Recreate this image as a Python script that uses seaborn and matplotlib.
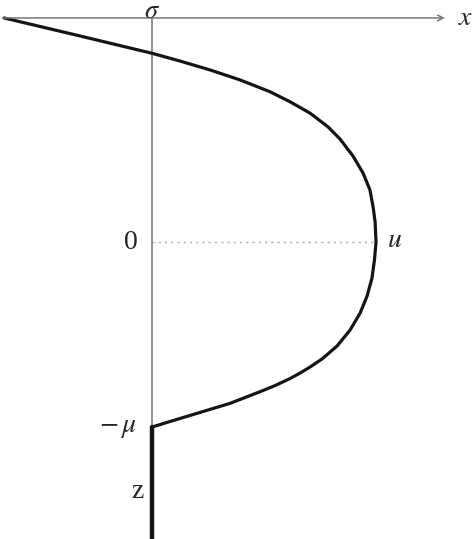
import numpy as np
import pandas as pd
import matplotlib
matplotlib.use("Agg")
import matplotlib.pyplot as plt
import seaborn as sns

# velocity profile (x in units of u, z in units of mu)
prof_x = [-0.661, -0.330, 0.0, 0.125, 0.259, 0.393, 0.527, 0.616, 0.705, 0.786,
          0.839, 0.897, 0.942, 0.973, 0.987, 0.996, 1.0,
          0.993, 0.982, 0.960, 0.929, 0.884, 0.826, 0.759, 0.705, 0.661,
          0.616, 0.549, 0.482, 0.348, 0.214, 0.080, 0.0]
prof_z = [1.211, 1.116, 1.020, 0.978, 0.930, 0.876, 0.812, 0.758, 0.697, 0.622,
          0.557, 0.465, 0.373, 0.281, 0.189, 0.108, 0.0,
          -0.097, -0.195, -0.292, -0.384, -0.476, -0.562, -0.632, -0.676, -0.708,
          -0.738, -0.776, -0.809, -0.872, -0.921, -0.970, -1.0]
# thick segment below -mu
wall_x = [0.0, 0.0]
wall_z = [-1.0, -1.61]

surface_z = 1.211
peak_u = 1.0
mu_z = -1.0

sns.set_style("white")
plt.rcParams['mathtext.fontset'] = 'stix'
plt.rcParams['font.family'] = ['Liberation Serif', 'DejaVu Serif']

fig = plt.figure(figsize=(4.74, 5.39), dpi=100)
ax = fig.add_axes([0, 0, 1, 1])

df = pd.DataFrame({'x': prof_x, 'z': prof_z})
sns.lineplot(data=df, x='x', y='z', sort=False, estimator=None,
             color='#151515', lw=2.3, solid_joinstyle='round', ax=ax)
sns.lineplot(x=wall_x, y=wall_z, sort=False, estimator=None,
             color='#151515', lw=3.2, ax=ax)

# axes
ax.annotate('', xy=(1.32, surface_z), xytext=(-0.679, surface_z),
            arrowprops=dict(arrowstyle='->', color='#777777', lw=1.1))
ax.plot([0, 0], [surface_z, mu_z], color='#888888', lw=1.3, zorder=1)
ax.plot([0, peak_u], [0, 0], color='#aaaaaa', lw=1.0, ls=(0, (1.5, 3)), zorder=1)

fs = 20
ax.text(0.0, 1.245, r'$\sigma$', ha='center', va='center', fontsize=19)
ax.text(1.40, surface_z - 0.005, r'$x$', ha='center', va='center', fontsize=fs)
ax.text(-0.094, 0.0, '0', ha='center', va='center', fontsize=fs)
ax.text(1.085, 0.01, r'$u$', ha='center', va='center', fontsize=fs)
ax.text(-0.07, mu_z, r'$-\,\mu$', ha='right', va='center', fontsize=fs)
ax.text(-0.04, -1.35, 'z', ha='right', va='center', fontsize=fs)

ax.set_xlim(-0.679, 1.4375)
ax.set_ylim(-1.605, 1.308)
ax.set_axis_off()

fig.savefig('out.png', dpi=100)
